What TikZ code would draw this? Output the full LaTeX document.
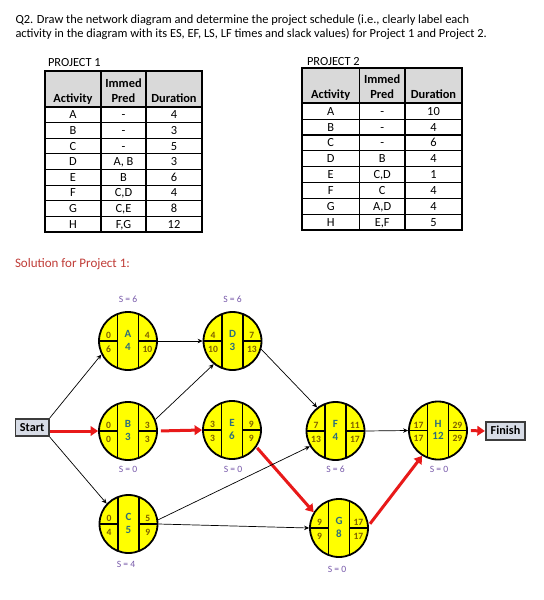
\documentclass[tikz,border=0pt]{standalone}
\usepackage{fontspec}
\setmainfont{Carlito}
\usetikzlibrary{arrows.meta,calc}
\definecolor{hdrgray}{RGB}{217,217,217}
\definecolor{actyellow}{RGB}{255,255,0}
\definecolor{numbrown}{RGB}{125,95,0}
\definecolor{letteal}{RGB}{45,110,125}
\definecolor{slackpurple}{RGB}{120,90,170}
\definecolor{critred}{RGB}{232,25,25}
\definecolor{soltext}{RGB}{192,60,55}
\definecolor{boxfill}{RGB}{215,220,230}
\definecolor{boxedge}{RGB}{60,60,60}

\newcommand{\ActNode}[8]{%
  \node[actcircle] (#1) at (#2) {};
  \begin{scope}[shift={(#2)}]
    \begin{scope}
      \clip (0,0) circle (29bp);
      \draw[divline] (-10.4,-30) -- (-10.4,30);
      \draw[divline] (10.4,-30) -- (10.4,30);
      \draw[divline] (-30,0) -- (-10.4,0);
      \draw[divline] (10.4,0) -- (30,0);
    \end{scope}
    \draw[actborder] (0,0) circle (29bp);
    \node[numtxt] (#1es) at (-19.4,-5.5) {#5};
    \node[numtxt] (#1ls) at (-19.4,8) {#7};
    \node[lettxt] (#1let) at (0,-7) {#3};
    \node[lettxt] (#1dur) at (0,5.5) {#4};
    \node[numtxt] (#1ef) at (19.4,-5.5) {#6};
    \node[numtxt] (#1lf) at (19.4,8) {#8};
  \end{scope}}

\begin{document}
\begin{tikzpicture}[x=1bp,y=-1bp,
  txt/.style={inner sep=0,outer sep=0,font=\fontsize{12.4bp}{14bp}\selectfont},
  titletxt/.style={txt,anchor=base west},
  cell/.style={txt,text height=8bp,text depth=0bp},
  hdr/.style={cell,font=\fontsize{12.4bp}{14bp}\selectfont\bfseries},
  touter/.style={draw=black,line width=1.7bp},
  tinner/.style={draw=black,line width=1.1bp},
  actcircle/.style={circle,fill=actyellow,minimum size=58bp,inner sep=0,outer sep=0.9bp},
  actborder/.style={draw=black,line width=1.8bp},
  divline/.style={draw=black,line width=1.6bp},
  numtxt/.style={inner sep=0,font=\fontsize{9.6bp}{10bp}\selectfont\bfseries,text=numbrown,text height=6.1bp,text depth=0bp},
  lettxt/.style={inner sep=0,font=\fontsize{11bp}{12bp}\selectfont\bfseries,text=letteal,text height=7bp,text depth=0bp},
  slacktxt/.style={inner sep=0,font=\fontsize{9.6bp}{10bp}\selectfont,text=slackpurple,text height=6.1bp,text depth=0bp},
  endbox/.style={draw=boxedge,line width=1.8bp,fill=boxfill,inner sep=0,font=\fontsize{12.2bp}{13bp}\selectfont\bfseries,text height=7.9bp,text depth=0bp},
  thinarr/.style={draw=black,line width=0.7bp,-{Stealth[length=5bp,width=4.5bp]}},
  critarr/.style={draw=critred,line width=3bp,-{Triangle[length=7.5bp,width=9.5bp]}}]
\fill[white] (0,0) rectangle (544,600);
\useasboundingbox (0,0) rectangle (544,600);

% title
\node[titletxt] (title1) at (15.5,23.5) {Q2. Draw the network diagram and determine the project schedule (i.e., clearly label each};
\node[titletxt] (title2) at (15.5,37.5) {activity in the diagram with its ES, EF, LS, LF times and slack values) for Project 1 and Project 2.};

% ---------- Project 1 table ----------
\node[titletxt] (p1lbl) at (48,66.5) {PROJECT 1};
\fill[hdrgray] (45,71) rectangle (202,107);
\foreach \i in {1,...,7} \draw[tinner] (45,107+\i*15.625) -- (202,107+\i*15.625);
\draw[tinner] (101,71) -- (101,232);
\draw[tinner] (146,71) -- (146,232);
\draw[touter] (45,107) -- (202,107);
\draw[touter] (45,71) rectangle (202,232);
\node[hdr] (t1hact) at (73,99) {Activity};
\node[hdr] (t1himm) at (123.5,83.3) {Immed};
\node[hdr] (t1hpred) at (123.5,99) {Pred};
\node[hdr] (t1hdur) at (174,99) {Duration};
\foreach \a/\p/\d [count=\i] in {A/-/4,B/-/3,C/-/5,D/{A, B}/3,E/B/6,F/{C,D}/4,G/{C,E}/8,H/{F,G}/12}{
  \node[cell] (t1a\i) at (73,107+\i*15.625-7.8) {\a};
  \node[cell] (t1p\i) at (123.5,107+\i*15.625-7.8) {\p};
  \node[cell] (t1d\i) at (174,107+\i*15.625-7.8) {\d};
}

% ---------- Project 2 table ----------
\node[titletxt] (p2lbl) at (307,66) {PROJECT 2};
\fill[hdrgray] (302,68.3) rectangle (462,103.3);
\foreach \i in {1,...,7} \draw[tinner] (302,103.3+\i*15.84) -- (462,103.3+\i*15.84);
\draw[tinner] (359.3,68.3) -- (359.3,230);
\draw[tinner] (405,68.3) -- (405,230);
\draw[touter] (302,103.3) -- (462,103.3);
\draw[touter] (302,68.3) rectangle (462,230);
\node[hdr] (t2hact) at (330.7,95) {Activity};
\node[hdr] (t2himm) at (382.2,79.3) {Immed};
\node[hdr] (t2hpred) at (382.2,95) {Pred};
\node[hdr] (t2hdur) at (433.5,95) {Duration};
\foreach \a/\p/\d [count=\i] in {A/-/10,B/-/4,C/-/6,D/B/4,E/{C,D}/1,F/C/4,G/{A,D}/4,H/{E,F}/5}{
  \node[cell] (t2a\i) at (330.7,103.3+\i*15.84-7.9) {\a};
  \node[cell] (t2p\i) at (382.2,103.3+\i*15.84-7.9) {\p};
  \node[cell] (t2d\i) at (433.5,103.3+\i*15.84-7.9) {\d};
}

% ---------- Solution ----------
\node[titletxt,text=soltext,font=\fontsize{13bp}{15bp}\selectfont] (sol) at (15,267.5) {Solution for Project 1:};

\node[endbox,minimum width=33.5bp,minimum height=17.5bp] (Start) at (32.2,427.5) {Start};
\node[endbox,minimum width=39.5bp,minimum height=18.5bp] (Finish) at (505.5,431) {Finish};

\ActNode{A}{128,341}{A}{4}{0}{4}{6}{10}
\ActNode{D}{232.5,341}{D}{3}{4}{7}{10}{13}
\ActNode{B}{128,431}{B}{3}{0}{3}{0}{3}
\ActNode{E}{232,430}{E}{6}{3}{9}{3}{9}
\ActNode{F}{335.5,431}{F}{4}{7}{11}{13}{17}
\ActNode{H}{438,430.5}{H}{12}{17}{29}{17}{29}
\ActNode{C}{128.5,524}{C}{5}{0}{5}{4}{9}
\ActNode{G}{339,528}{G}{8}{9}{17}{9}{17}

\node[slacktxt] (sA) at (128,299) {S = 6};
\node[slacktxt] (sD) at (232.5,299) {S = 6};
\node[slacktxt] (sB) at (128,469) {S = 0};
\node[slacktxt] (sE) at (233,469) {S = 0};
\node[slacktxt] (sF) at (335.5,469) {S = 6};
\node[slacktxt] (sH) at (439,469) {S = 0};
\node[slacktxt] (sC) at (126,564) {S = 4};
\node[slacktxt] (sG) at (337,569) {S = 0};

% connectors
\draw[thinarr] (Start.north east) -- (A.207);
\draw[thinarr] (Start.south east) -- (C.137);
\draw[critarr] (Start.east |- B.west) -- (B.west);
\draw[thinarr] (A.east) -- (D.west);
\draw[thinarr] (B.23) -- (D.231);
\draw[critarr,shorten <=3bp] (B.east) -- (E.west);
\draw[thinarr] (D.-16) -- (F.128);
\draw[critarr,shorten <=1bp] (E.-35) -- (G.148);
\draw[thinarr] (C.8) -- (F.211);
\draw[thinarr] (C.east) -- (G.west);
\draw[thinarr] (F.east) -- (H.west);
\draw[critarr,shorten <=2bp] (G.5) -- (H.238);
\draw[critarr,shorten <=3bp] (H.east) -- (Finish.west);
\end{tikzpicture}
\end{document}
